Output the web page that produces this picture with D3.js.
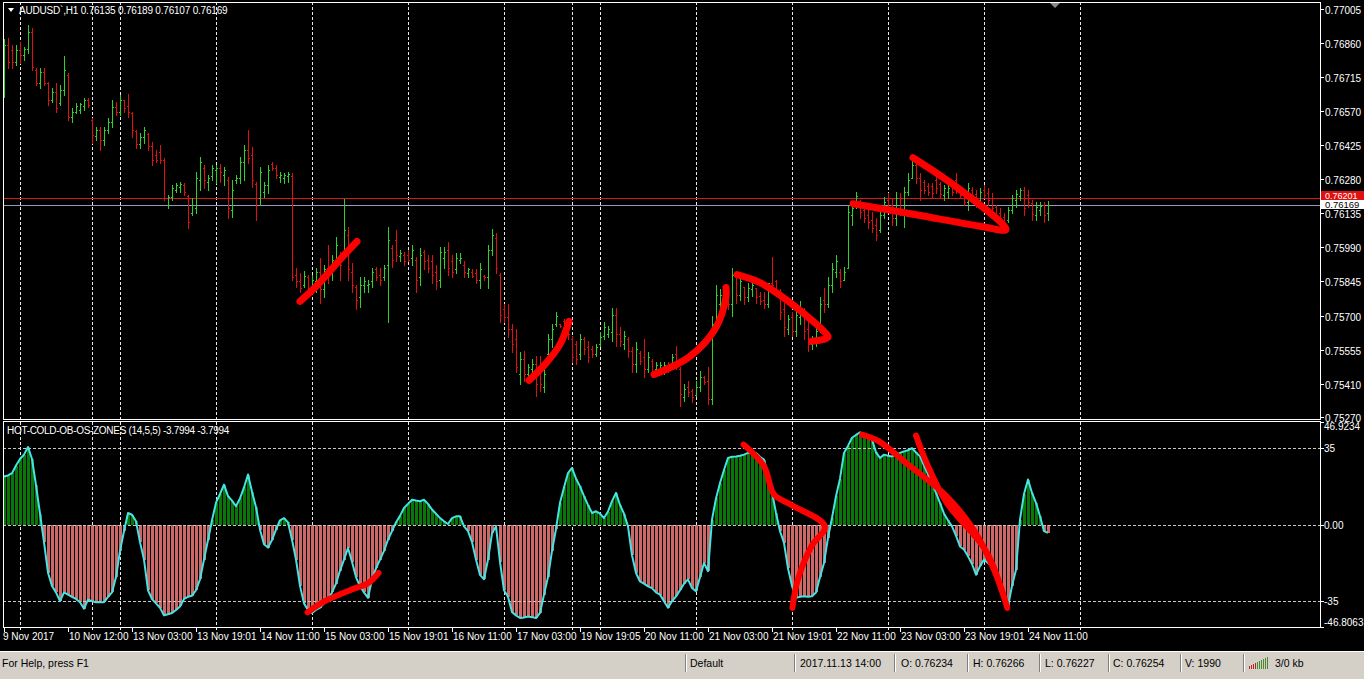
<!DOCTYPE html>
<html><head><meta charset="utf-8">
<script src="https://cdn.jsdelivr.net/npm/d3@7"></script>
<style>
html,body{margin:0;padding:0;background:#000;overflow:hidden}
svg{display:block}
text{font-family:"Liberation Sans",Arial,sans-serif}
</style></head><body>
<svg id="c" width="1364" height="679"></svg>
<script>
// ---------- DATA ----------
const symbolTitle = "AUDUSD`,H1";
const lastOHLC = ["0.76135","0.76189","0.76107","0.76169"];
const indicatorTitle = "HOT-COLD-OB-OS-ZONES (14,5,5) -3.7994 -3.7994";

const open = [0.76639,0.76852,0.76831,0.76780,0.76831,0.76809,0.76835,0.76907,0.76746,0.76690,
0.76737,0.76690,0.76618,0.76652,0.76605,0.76661,0.76724,0.76546,0.76567,0.76576,
0.76593,0.76618,0.76533,0.76465,0.76491,0.76448,0.76491,0.76525,0.76588,0.76567,
0.76618,0.76593,0.76563,0.76486,0.76431,0.76461,0.76474,0.76423,0.76384,0.76397,
0.76363,0.76172,0.76206,0.76234,0.76248,0.76257,0.76210,0.76138,0.76159,0.76278,
0.76329,0.76270,0.76295,0.76321,0.76329,0.76300,0.76278,0.76151,0.76278,0.76287,
0.76355,0.76406,0.76384,0.76261,0.76202,0.76227,0.76257,0.76346,0.76329,0.76291,
0.76287,0.76295,0.76295,0.75874,0.75845,0.75832,0.75862,0.75819,0.75845,0.75887,
0.75811,0.75904,0.75887,0.75938,0.75959,0.75959,0.76044,0.75887,0.75823,0.75777,
0.75832,0.75828,0.75845,0.75896,0.75874,0.75862,0.75917,0.75989,0.76023,0.75955,
0.75959,0.75959,0.75946,0.75938,0.75862,0.75972,0.75938,0.75930,0.75887,0.75853,
0.75946,0.75981,0.75930,0.75896,0.75938,0.75917,0.75879,0.75887,0.75879,0.75853,
0.75870,0.75862,0.75981,0.76032,0.75874,0.75726,0.75692,0.75641,0.75598,0.75449,
0.75513,0.75449,0.75471,0.75492,0.75449,0.75394,0.75535,0.75598,0.75662,0.75662,
0.75675,0.75662,0.75598,0.75577,0.75535,0.75598,0.75564,0.75556,0.75535,0.75577,
0.75611,0.75620,0.75628,0.75704,0.75620,0.75577,0.75598,0.75547,0.75492,0.75539,
0.75522,0.75471,0.75505,0.75471,0.75471,0.75471,0.75488,0.75488,0.75535,0.75471,
0.75352,0.75394,0.75377,0.75360,0.75394,0.75437,0.75420,0.75343,0.75662,0.75747,
0.75789,0.75768,0.75747,0.75862,0.75789,0.75823,0.75777,0.75811,0.75819,0.75785,
0.75768,0.75747,0.75840,0.75845,0.75802,0.75726,0.75641,0.75692,0.75632,0.75692,
0.75726,0.75641,0.75577,0.75598,0.75641,0.75768,0.75747,0.75832,0.75887,0.75887,
0.75853,0.75904,0.76129,0.76172,0.76185,0.76151,0.76129,0.76108,0.76087,0.76066,
0.76129,0.76193,0.76172,0.76117,0.76202,0.76142,0.76227,0.76287,0.76342,0.76287,
0.76270,0.76253,0.76253,0.76278,0.76261,0.76214,0.76227,0.76253,0.76278,0.76240,
0.76219,0.76185,0.76236,0.76219,0.76193,0.76236,0.76223,0.76202,0.76163,0.76138,
0.76121,0.76108,0.76151,0.76193,0.76210,0.76236,0.76214,0.76180,0.76129,0.76151,
0.76172,0.76135];
const high = [0.76877,0.76882,0.76852,0.76852,0.76865,0.76843,0.76937,0.76924,0.76754,0.76754,
0.76754,0.76695,0.76669,0.76690,0.76682,0.76805,0.76733,0.76584,0.76605,0.76605,
0.76627,0.76627,0.76542,0.76504,0.76504,0.76504,0.76542,0.76618,0.76610,0.76639,
0.76618,0.76644,0.76567,0.76491,0.76478,0.76504,0.76478,0.76440,0.76406,0.76427,
0.76372,0.76214,0.76257,0.76266,0.76270,0.76265,0.76214,0.76202,0.76312,0.76376,
0.76342,0.76300,0.76342,0.76342,0.76346,0.76333,0.76291,0.76278,0.76300,0.76376,
0.76427,0.76491,0.76418,0.76270,0.76333,0.76270,0.76342,0.76355,0.76342,0.76312,
0.76308,0.76312,0.76308,0.75904,0.75883,0.75891,0.75874,0.75874,0.75904,0.75946,
0.75917,0.76002,0.75959,0.76036,0.75972,0.76197,0.76078,0.75925,0.75832,0.75862,
0.75862,0.75853,0.75904,0.75908,0.75904,0.75917,0.76078,0.76002,0.76066,0.75981,
0.75972,0.75981,0.76002,0.75951,0.75989,0.75981,0.75959,0.75959,0.75917,0.75993,
0.75993,0.76015,0.75959,0.75968,0.75968,0.75930,0.75904,0.75896,0.75896,0.75925,
0.75874,0.76002,0.76070,0.76053,0.75883,0.75747,0.75747,0.75662,0.75641,0.75543,
0.75547,0.75492,0.75513,0.75526,0.75526,0.75471,0.75620,0.75662,0.75713,0.75662,
0.75683,0.75683,0.75611,0.75590,0.75620,0.75607,0.75590,0.75569,0.75577,0.75628,
0.75671,0.75654,0.75734,0.75734,0.75649,0.75632,0.75607,0.75564,0.75586,0.75547,
0.75598,0.75543,0.75513,0.75501,0.75501,0.75501,0.75501,0.75535,0.75569,0.75479,
0.75407,0.75420,0.75386,0.75420,0.75462,0.75441,0.75479,0.75696,0.75832,0.75811,
0.75832,0.75811,0.75904,0.75866,0.75862,0.75823,0.75840,0.75853,0.75819,0.75798,
0.75798,0.75840,0.75951,0.75853,0.75811,0.75755,0.75704,0.75717,0.75726,0.75760,
0.75734,0.75696,0.75611,0.75649,0.75777,0.75819,0.75866,0.75925,0.75959,0.75896,
0.75908,0.76172,0.76180,0.76227,0.76193,0.76172,0.76151,0.76142,0.76117,0.76159,
0.76206,0.76223,0.76202,0.76227,0.76223,0.76248,0.76308,0.76363,0.76376,0.76308,
0.76278,0.76265,0.76265,0.76291,0.76270,0.76257,0.76257,0.76270,0.76308,0.76248,
0.76227,0.76265,0.76248,0.76236,0.76244,0.76257,0.76244,0.76223,0.76172,0.76159,
0.76138,0.76163,0.76214,0.76236,0.76244,0.76248,0.76236,0.76193,0.76185,0.76185,
0.76185,0.76189];
const low = [0.76631,0.76754,0.76754,0.76767,0.76775,0.76788,0.76818,0.76746,0.76682,0.76669,
0.76682,0.76597,0.76610,0.76567,0.76597,0.76639,0.76533,0.76525,0.76563,0.76563,
0.76576,0.76588,0.76435,0.76448,0.76406,0.76427,0.76478,0.76504,0.76554,0.76554,
0.76567,0.76546,0.76461,0.76414,0.76414,0.76435,0.76406,0.76342,0.76355,0.76350,
0.76193,0.76159,0.76193,0.76227,0.76227,0.76214,0.76074,0.76129,0.76138,0.76236,
0.76244,0.76236,0.76278,0.76265,0.76270,0.76257,0.76117,0.76121,0.76265,0.76265,
0.76278,0.76350,0.76248,0.76108,0.76172,0.76206,0.76223,0.76321,0.76287,0.76270,
0.76265,0.76270,0.75853,0.75823,0.75798,0.75823,0.75781,0.75802,0.75798,0.75755,
0.75777,0.75840,0.75853,0.75908,0.75853,0.75951,0.75853,0.75802,0.75726,0.75738,
0.75798,0.75802,0.75823,0.75853,0.75832,0.75853,0.75671,0.75908,0.75930,0.75930,
0.75917,0.75930,0.75917,0.75798,0.75832,0.75896,0.75887,0.75840,0.75811,0.75823,
0.75904,0.75874,0.75866,0.75883,0.75925,0.75866,0.75866,0.75862,0.75840,0.75819,
0.75853,0.75819,0.75959,0.75883,0.75671,0.75671,0.75607,0.75543,0.75458,0.75407,
0.75420,0.75437,0.75437,0.75356,0.75377,0.75373,0.75522,0.75564,0.75654,0.75649,
0.75641,0.75598,0.75501,0.75492,0.75513,0.75535,0.75501,0.75522,0.75526,0.75569,
0.75598,0.75607,0.75590,0.75569,0.75569,0.75556,0.75522,0.75458,0.75458,0.75492,
0.75437,0.75458,0.75437,0.75458,0.75458,0.75449,0.75458,0.75479,0.75471,0.75313,
0.75335,0.75356,0.75330,0.75356,0.75377,0.75407,0.75322,0.75322,0.75628,0.75704,
0.75747,0.75726,0.75696,0.75755,0.75768,0.75747,0.75760,0.75781,0.75755,0.75747,
0.75734,0.75738,0.75823,0.75781,0.75683,0.75611,0.75620,0.75611,0.75611,0.75662,
0.75598,0.75547,0.75556,0.75569,0.75628,0.75713,0.75738,0.75798,0.75862,0.75823,
0.75853,0.75904,0.76087,0.76159,0.76117,0.76100,0.76074,0.76057,0.76023,0.76057,
0.76117,0.76142,0.76087,0.76087,0.76129,0.76078,0.76214,0.76287,0.76265,0.76193,
0.76223,0.76214,0.76206,0.76223,0.76202,0.76193,0.76202,0.76214,0.76223,0.76202,
0.76172,0.76151,0.76202,0.76163,0.76185,0.76202,0.76172,0.76142,0.76108,0.76100,
0.76078,0.76100,0.76138,0.76163,0.76193,0.76129,0.76163,0.76108,0.76108,0.76129,
0.76100,0.76107];
const close = [0.76852,0.76780,0.76780,0.76831,0.76809,0.76835,0.76907,0.76758,0.76690,0.76737,
0.76690,0.76618,0.76652,0.76584,0.76661,0.76746,0.76546,0.76567,0.76593,0.76601,
0.76618,0.76597,0.76469,0.76491,0.76448,0.76491,0.76525,0.76588,0.76567,0.76618,
0.76584,0.76567,0.76491,0.76431,0.76461,0.76491,0.76423,0.76363,0.76363,0.76363,
0.76202,0.76206,0.76244,0.76254,0.76261,0.76227,0.76100,0.76172,0.76287,0.76355,
0.76278,0.76287,0.76329,0.76329,0.76312,0.76321,0.76159,0.76236,0.76287,0.76355,
0.76406,0.76372,0.76278,0.76202,0.76312,0.76257,0.76321,0.76329,0.76300,0.76300,
0.76300,0.76304,0.75862,0.75845,0.75819,0.75870,0.75811,0.75853,0.75887,0.75811,
0.75896,0.75887,0.75938,0.76002,0.75917,0.76066,0.75896,0.75832,0.75768,0.75832,
0.75845,0.75836,0.75887,0.75862,0.75853,0.75904,0.76023,0.75938,0.75959,0.75968,
0.75930,0.75938,0.75981,0.75853,0.75959,0.75930,0.75904,0.75874,0.75845,0.75972,
0.75972,0.75904,0.75887,0.75946,0.75946,0.75887,0.75896,0.75870,0.75853,0.75896,
0.75862,0.75981,0.76044,0.75904,0.75704,0.75692,0.75641,0.75577,0.75479,0.75513,
0.75449,0.75479,0.75492,0.75407,0.75407,0.75449,0.75598,0.75641,0.75700,0.75654,
0.75649,0.75620,0.75522,0.75513,0.75598,0.75556,0.75522,0.75535,0.75564,0.75607,
0.75649,0.75641,0.75704,0.75620,0.75590,0.75611,0.75547,0.75492,0.75556,0.75505,
0.75471,0.75522,0.75462,0.75488,0.75488,0.75488,0.75471,0.75522,0.75479,0.75364,
0.75386,0.75373,0.75352,0.75394,0.75437,0.75415,0.75343,0.75662,0.75789,0.75789,
0.75768,0.75747,0.75874,0.75789,0.75845,0.75777,0.75819,0.75832,0.75777,0.75760,
0.75747,0.75840,0.75832,0.75802,0.75717,0.75649,0.75683,0.75632,0.75704,0.75734,
0.75632,0.75577,0.75598,0.75632,0.75747,0.75747,0.75832,0.75896,0.75930,0.75845,
0.75887,0.76142,0.76159,0.76210,0.76142,0.76117,0.76100,0.76074,0.76044,0.76129,
0.76185,0.76159,0.76117,0.76202,0.76151,0.76227,0.76278,0.76342,0.76287,0.76236,
0.76236,0.76227,0.76223,0.76244,0.76219,0.76244,0.76244,0.76227,0.76236,0.76214,
0.76185,0.76244,0.76214,0.76185,0.76227,0.76214,0.76193,0.76159,0.76129,0.76117,
0.76091,0.76151,0.76202,0.76219,0.76236,0.76159,0.76185,0.76134,0.76163,0.76168,
0.76129,0.76169];
const hotCold = [22,22.5,23.5,27,30,32,35.5,30,18,5,
-8,-22,-28,-31,-35,-31,-32,-33,-34,-35.5,
-38.4,-34.3,-35,-35.5,-35.5,-35.5,-33,-31,-24,-12,
-3,5.3,4.5,1.5,-8,-16,-30,-34,-36,-38,
-41.5,-41,-40.4,-39,-37.4,-34,-33,-32.5,-30,-25,
-16,-7,2,10,14,18.3,13,11,8.4,12,
17,22.9,15,8,-2.3,-9,-10.5,-7,-2.3,2,
3,1,-6.9,-16,-28,-36,-39,-40.4,-39,-38,
-36,-34.3,-31,-27,-21,-16,-10.7,-17,-24,-28.2,
-31,-33.5,-25,-20,-16,-12,-6.9,-3,1,4,
7.6,9.5,11.4,11,10.7,11.4,9.5,6.9,5,3,
1.5,0.3,3,3.8,3.8,-0.8,-3,-8,-16,-23,
-25,-16,-4,-0.8,-17,-30,-33,-40,-41.5,-42.7,
-42.5,-42,-42.3,-42.7,-40.4,-32,-24,-12,-2,10,
17,23.6,25.9,21,17.5,13,9,5.3,6.1,5,
3,6,10.7,14.5,9,5,-0.8,-14,-22.1,-26,
-27,-28.2,-29,-31,-32,-35,-38,-35,-32.8,-30,
-27,-25,-29,-30.5,-24,-17.5,-21.3,2.3,12,19,
25,30.5,31,31.2,31.5,32,32.8,33,32.8,31,
29.7,23,15,5.3,-3,-8.4,-20,-28,-33.5,-33,
-32.8,-33,-32.8,-31,-24,-17.5,-6,3,13,21,
32.8,36,39.7,41,42.2,41.2,40,38.9,33,30.5,
32,31.5,31.2,32,32.8,33.5,34,35,33,31.2,
27,23,19,14.5,10,5,2,-0.8,-5,-10,
-11.4,-14.5,-18,-22.9,-19,-16,-17.5,-19,-23,-28.2,
-33,-37.4,-28,-20.6,2.3,14,20.6,14.5,10,3.8,
-3,-3.7994];

const priceTicks = [0.77005,0.76860,0.76715,0.76570,0.76425,0.76280,0.76135,0.75990,0.75845,0.75700,0.75555,0.75410,0.75270];
const oscTicks = [46.9234,35,0,-35,-46.8063];
const oscTickLabels = ["46.9234","35","0.00","-35","-46.8063"];
const oscLevels = [35,0,-35];
const timeTickIdx = [0,16,32,48,64,80,96,112,128,144,160,176,192,208,224,240,256];
const timeTickLabels = ["9 Nov 2017","10 Nov 12:00","13 Nov 03:00","13 Nov 19:01","14 Nov 11:00","15 Nov 03:00","15 Nov 19:01","16 Nov 11:00","17 Nov 03:00","19 Nov 19:05","20 Nov 11:00","21 Nov 03:00","21 Nov 19:01","22 Nov 11:00","23 Nov 03:00","23 Nov 19:01","24 Nov 11:00"];
const daySepIdx = [4,22,29,53,77,101,125,142,149,173,197,221,245,269];
const redLinePrice = 0.76201;
const bidPrice = 0.76169;

// hand-drawn annotations: [barIndex, value]
const priceMarks = [
 [[74,0.75760],[78.5,0.75832],[84,0.75938],[88.25,0.76015]],
 [[131.25,0.75424],[135.25,0.75492],[139,0.75577],[141.25,0.75675]],
 [[162.5,0.75449],[171.5,0.75526],[178,0.75649],[180.5,0.75781],[180.5,0.75819]],
 [[183.25,0.75874],[189,0.75840],[194.75,0.75777],[200.25,0.75704],[204.5,0.75641],[206,0.75607],[202,0.75590]],
 [[227.25,0.76372],[239,0.76236],[250.5,0.76066],[244.75,0.76078],[228,0.76129],[212.25,0.76176]]
];
const oscMarks = [
 [[75.9,-40.1],[80.1,-35.1],[86.9,-29.7],[91.1,-26.7],[93.65,-22.1]],
 [[184.9,36.6],[190,26.7],[192.55,13.7],[196.75,9.1],[205.2,-0.8],[201.85,-9.9],[198.45,-25.2],[197.1,-38.1]],
 [[214.5,41.2],[218.75,38.1],[225.5,28.2],[235.65,12.9],[242.4,-2.3],[247.5,-20.6],[250.85,-38.1],[245.75,-12.8],[235.65,10.1],[230.6,28.4],[228,40.7]]
];

const statusItems = [["Default",690],["2017.11.13 14:00",800],["O: 0.76234",901],["H: 0.76266",973],["L: 0.76227",1045],["C: 0.76254",1113],["V: 1990",1185],["3/0 kb",1275]];
const statusSeps = [685,794,894,967,1039,1108,1180,1243];

// ---------- DRAW ----------
const svg = d3.select("#c");
const W = 1364, H = 679;
const L = 3, R = 1320;
const mainTop = 2, mainBot = 419, oscTop = 422, oscBot = 627;
const UP = "#2ed12e", DN = "#e01010", FG = "#ffffff";
const FS = 10;

svg.append("rect").attr("width",W).attr("height",H).attr("fill","#000");

const x = d3.scaleLinear().domain([0,261]).range([4,1048]);
const y = d3.scaleLinear().domain([0.75270,0.77005]).range([416.5,9]);
const yo = d3.scaleLinear().domain([-46.8063,46.9234]).range([oscBot,oscTop]);

const crisp = svg.append("g").attr("shape-rendering","crispEdges");

// grid: day separators
[[mainTop,mainBot],[oscTop,oscBot]].forEach(([t,b])=>{
  crisp.append("g").selectAll("line").data(daySepIdx).join("line")
    .attr("x1",d=>Math.round(x(d))+0.5).attr("x2",d=>Math.round(x(d))+0.5)
    .attr("y1",t).attr("y2",b).attr("stroke","#e8e8e8").attr("stroke-dasharray","3,2");
});

// oscillator histogram
const z0 = yo(0);
crisp.append("g").selectAll("rect").data(hotCold).join("rect")
  .attr("x",(d,i)=>Math.round(x(i))-1).attr("width",3)
  .attr("y",d=>Math.min(yo(d),z0)).attr("height",d=>Math.abs(yo(d)-z0))
  .attr("fill",d=>d>=0?"#0a760a":"#cc6868");

// oscillator levels
crisp.append("g").selectAll("line").data(oscLevels).join("line")
  .attr("x1",L).attr("x2",R).attr("y1",d=>Math.round(yo(d))+0.5).attr("y2",d=>Math.round(yo(d))+0.5)
  .attr("stroke","#c8c8c8").attr("stroke-dasharray","3,2");

// oscillator line
svg.append("path").datum(hotCold)
  .attr("d",d3.line().x((d,i)=>x(i)).y(d=>yo(d)))
  .attr("fill","none").attr("stroke","#45e3e3").attr("stroke-width",2).attr("stroke-linejoin","round");

// horizontal price lines
const hl = svg.append("g").attr("shape-rendering","crispEdges");
hl.append("line").attr("x1",L).attr("x2",R).attr("y1",Math.round(y(redLinePrice))+0.5).attr("y2",Math.round(y(redLinePrice))+0.5).attr("stroke","#d81818");
hl.append("line").attr("x1",L).attr("x2",R).attr("y1",Math.round(y(bidPrice))+0.5).attr("y2",Math.round(y(bidPrice))+0.5).attr("stroke","#9a9ab8");

// OHLC bars
const bars = d3.range(open.length).map(i=>({i,o:open[i],h:high[i],l:low[i],c:close[i]}));
const bg = svg.append("g").attr("shape-rendering","crispEdges");
bars.forEach(b=>{
  const col = b.c>=b.o?UP:DN;
  const cx = Math.round(x(b.i));
  const top = Math.round(y(Math.max(b.h,b.o,b.c))), bot = Math.round(y(Math.min(b.l,b.o,b.c)));
  bg.append("rect").attr("x",cx).attr("y",top).attr("width",1).attr("height",Math.max(1,bot-top+1)).attr("fill",col);
  bg.append("rect").attr("x",cx-1).attr("y",Math.round(y(b.o))).attr("width",1).attr("height",1).attr("fill",col);
  bg.append("rect").attr("x",cx+1).attr("y",Math.round(y(b.c))).attr("width",1).attr("height",1).attr("fill",col);
});

// annotations
const aLine = d3.line().curve(d3.curveCatmullRom.alpha(0.5));
svg.append("g").selectAll("path").data(priceMarks).join("path")
  .attr("d",d=>aLine(d.map(p=>[x(p[0]),y(p[1])])))
  .attr("fill","none").attr("stroke","#ff0000").attr("stroke-width",7).attr("stroke-linecap","round").attr("stroke-linejoin","round");
svg.append("g").selectAll("path").data(oscMarks).join("path")
  .attr("d",d=>aLine(d.map(p=>[x(p[0]),yo(p[1])])))
  .attr("fill","none").attr("stroke","#ff0000").attr("stroke-width",6).attr("stroke-linecap","round").attr("stroke-linejoin","round");

// frames
const fr = svg.append("g").attr("shape-rendering","crispEdges").attr("fill","none").attr("stroke",FG);
fr.append("rect").attr("x",L+0.5).attr("y",mainTop+0.5).attr("width",R-L).attr("height",mainBot-mainTop);
fr.append("rect").attr("x",L+0.5).attr("y",oscTop-0.5).attr("width",R-L).attr("height",oscBot-oscTop+1);

// price axis
const ax = svg.append("g").attr("shape-rendering","crispEdges");
const pa = svg.append("g");
priceTicks.forEach(p=>{
  const yy = Math.round(y(p));
  ax.append("line").attr("x1",R).attr("x2",R+4).attr("y1",yy+0.5).attr("y2",yy+0.5).attr("stroke",FG);
  pa.append("text").attr("x",R+5).attr("y",yy+4.5).attr("fill",FG).attr("font-size",FS).text(p.toFixed(5));
});
oscTicks.forEach((v,k)=>{
  const yy = Math.round(yo(v));
  ax.append("line").attr("x1",R).attr("x2",R+4).attr("y1",yy+0.5).attr("y2",yy+0.5).attr("stroke",FG);
  pa.append("text").attr("x",R+4).attr("y",Math.min(Math.max(yy+4,oscTop+8),oscBot-1)).attr("fill",FG).attr("font-size",FS).text(oscTickLabels[k]);
});

// price labels (red line + bid)
const ry = Math.round(y(redLinePrice)), by = Math.round(y(bidPrice));
svg.append("rect").attr("x",R+1).attr("y",ry-7).attr("width",43).attr("height",9).attr("fill","#e01010");
svg.append("text").attr("x",R+5).attr("y",ry+1).attr("fill","#fff").attr("font-size",9).text(redLinePrice.toFixed(5));
svg.append("rect").attr("x",R+1).attr("y",by-5).attr("width",43).attr("height",9).attr("fill","#fff");
svg.append("text").attr("x",R+5).attr("y",by+3).attr("fill","#000").attr("font-size",9.5).text(bidPrice.toFixed(5));

// time axis
ax.append("line").attr("x1",L).attr("x2",R).attr("y1",oscBot+0.5).attr("y2",oscBot+0.5).attr("stroke",FG);
const tg = svg.append("g");
timeTickIdx.forEach((t,k)=>{
  const xx = Math.round(x(t));
  ax.append("line").attr("x1",xx+0.5).attr("x2",xx+0.5).attr("y1",oscBot).attr("y2",oscBot+5).attr("stroke",FG);
  tg.append("text").attr("x",k===0?3:xx+1).attr("y",640).attr("fill",FG).attr("font-size",FS).text(timeTickLabels[k]);
});
daySepIdx.forEach(t=>{
  const xx = Math.round(x(t));
  ax.append("line").attr("x1",xx+0.5).attr("x2",xx+0.5).attr("y1",oscBot).attr("y2",oscBot+3).attr("stroke",FG);
});

// titles
svg.append("path").attr("d","M8,8 L14,8 L11,12 Z").attr("fill",FG);
svg.append("text").attr("x",19).attr("y",14).attr("fill",FG).attr("font-size",FS).attr("letter-spacing",-0.2)
  .text(symbolTitle+" "+lastOHLC.join(" "));
svg.append("text").attr("x",7).attr("y",434).attr("fill",FG).attr("font-size",FS).attr("letter-spacing",-0.3).text(indicatorTitle);
svg.append("path").attr("d","M1050,3 L1060,3 L1055,8 Z").attr("fill","#8a8a8a");

// status bar
const sb = svg.append("g");
sb.append("rect").attr("x",0).attr("y",651).attr("width",W).attr("height",28).attr("fill","#d4d0c8");
const sbc = sb.append("g").attr("shape-rendering","crispEdges");
sbc.append("line").attr("x1",0).attr("x2",W).attr("y1",651.5).attr("y2",651.5).attr("stroke","#ffffff");
sb.append("text").attr("x",2).attr("y",667).attr("fill","#000").attr("font-size",10.5).text("For Help, press F1");
statusSeps.forEach(s=>{
  sbc.append("line").attr("x1",s+0.5).attr("x2",s+0.5).attr("y1",654).attr("y2",672).attr("stroke","#808080");
  sbc.append("line").attr("x1",s+1.5).attr("x2",s+1.5).attr("y1",654).attr("y2",672).attr("stroke","#ffffff");
});
statusItems.forEach(([t,xx])=>{
  sb.append("text").attr("x",xx).attr("y",667).attr("fill","#000").attr("font-size",10.5).text(t);
});
// connection icon
d3.range(10).forEach(k=>{
  sbc.append("rect").attr("x",1249+k*2).attr("y",669-(3+k)).attr("width",1).attr("height",3+k).attr("fill",k<4?"#c02020":"#4a8a2a");
});
</script>
</body></html>
